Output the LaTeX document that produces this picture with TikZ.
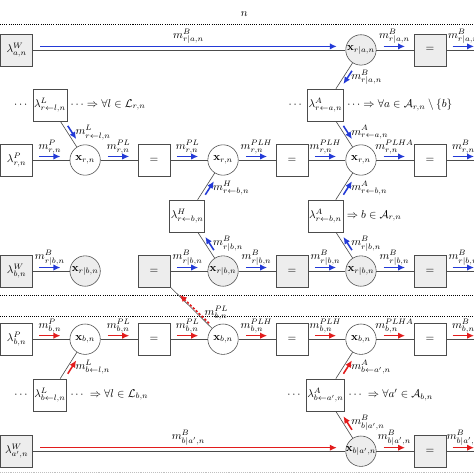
\documentclass[tikz,border=0pt]{standalone}
\usepackage{amsmath}
\usepackage{amssymb}
\usepackage{tikz}
\usetikzlibrary{calc,positioning,arrows.meta}
\usepackage{xcolor}
\definecolor{msgblue}{RGB}{35,58,215}
\definecolor{msgred}{RGB}{226,28,28}
\tikzset{
  fac/.style={rectangle,draw=black!70,line width=0.5pt,fill=white,minimum size=1cm,inner sep=1pt},
  facg/.style={fac,fill=black!7},
  var/.style={circle,draw=black!70,line width=0.5pt,fill=white,minimum size=0.95cm,inner sep=-1pt},
  varg/.style={var,fill=black!7},
  edge/.style={line width=0.55pt,black!70},
  sep/.style={densely dotted,line width=0.9pt,black},
  sepl/.style={densely dotted,line width=0.7pt,black!25},
  lbl/.style={inner sep=1.5pt,text=black},
  side/.style={inner sep=1pt},
  % message arrows drawn beside the edges
  mblue/.style={-{Latex[length=2.2mm,width=2mm]},line width=1.4pt,msgblue},
  mred/.style={-{Latex[length=2.2mm,width=2mm]},line width=1.4pt,msgred},
  mredd/.style={mred,dash pattern=on 2pt off 1.6pt},
}
% horizontal message above the edge from #2 to #3
\newcommand{\HMsg}[4]{%
  \draw[#1] ($(#2)!.33!(#3)+(0,.11)$) -- ($(#2)!.64!(#3)+(0,.11)$) node[lbl,midway,above]{#4};}
% slanted message right of the edge from #2 to #3
\newcommand{\DMsg}[4]{%
  \draw[#1] ($(#2)!.38!(#3)+(.14,0)$) -- ($(#2)!.62!(#3)+(.14,0)$) node[lbl,midway,right=1pt]{#4};}

\begin{document}
\begin{tikzpicture}
  \useasboundingbox (0,0) rectangle (14.8125,-14.8125);
  \clip (0,0) rectangle (14.8125,-14.8125);

  \node at (7.63,-0.44) {$n$};
  \draw[sep] (0,-0.78) -- (14.9,-0.78);
  \draw[sep] (0,-9.22) -- (14.9,-9.22);
  \draw[sep] (0,-9.9) -- (14.9,-9.9);
  \draw[sepl] (0,-14.75) -- (14.9,-14.75);

  % r panel
  \node[facg] (wA) at (0.52,-1.56) {$\lambda^{W}_{a,n}$};
  \node[varg] (xra) at (11.28,-1.56) {$\mathbf{x}_{r|a,n}$};
  \node[facg] (eqA) at (13.435,-1.56) {$=$};
  \coordinate (endA) at (15.59,-1.56);

  \node[fac] (lamLr) at (1.56,-3.28) {$\lambda^{L}_{r\leftarrow l,n}$};
  \node[fac] (lamAr) at (10.17,-3.28) {$\lambda^{A}_{r\leftarrow a,n}$};
  \node[side,left=2pt of lamLr] (dLr) {$\cdots$};
  \node[side,right=2pt of lamLr] (tLr) {$\cdots \Rightarrow \forall l \in \mathcal{L}_{r,n}$};
  \node[side,left=2pt of lamAr] (dAr) {$\cdots$};
  \node[side,right=2pt of lamAr] (tAr) {$\cdots \Rightarrow \forall a \in \mathcal{A}_{r,n} \setminus \{b\}$};

  \node[fac] (lamPr) at (0.52,-5.0) {$\lambda^{P}_{r,n}$};
  \node[var] (xr1) at (2.66,-5.0) {$\mathbf{x}_{r,n}$};
  \node[fac] (eqC2) at (4.815,-5.0) {$=$};
  \node[var] (xr3) at (6.97,-5.0) {$\mathbf{x}_{r,n}$};
  \node[fac] (eqC4) at (9.125,-5.0) {$=$};
  \node[var] (xr5) at (11.28,-5.0) {$\mathbf{x}_{r,n}$};
  \node[fac] (eqC6) at (13.435,-5.0) {$=$};
  \coordinate (endC) at (15.59,-5.0);

  \node[fac] (lamHr) at (5.85,-6.75) {$\lambda^{H}_{r\leftarrow b,n}$};
  \node[fac] (lamArb) at (10.17,-6.75) {$\lambda^{A}_{r\leftarrow b,n}$};
  \node[side,right=2pt of lamArb] (tArb) {$\Rightarrow b \in \mathcal{A}_{r,n}$};

  \node[facg] (wb) at (0.52,-8.47) {$\lambda^{W}_{b,n}$};
  \node[varg] (xrb1) at (2.66,-8.47) {$\mathbf{x}_{r|b,n}$};
  \node[facg] (eqE2) at (4.815,-8.47) {$=$};
  \node[varg] (xrb3) at (6.97,-8.47) {$\mathbf{x}_{r|b,n}$};
  \node[facg] (eqE4) at (9.125,-8.47) {$=$};
  \node[varg] (xrb5) at (11.28,-8.47) {$\mathbf{x}_{r|b,n}$};
  \node[facg] (eqE6) at (13.435,-8.47) {$=$};
  \coordinate (endE) at (15.59,-8.47);

  % b panel
  \node[fac] (lamPb) at (0.52,-10.6) {$\lambda^{P}_{b,n}$};
  \node[var] (xb1) at (2.66,-10.6) {$\mathbf{x}_{b,n}$};
  \node[fac] (eqF2) at (4.815,-10.6) {$=$};
  \node[var] (xb3) at (6.97,-10.6) {$\mathbf{x}_{b,n}$};
  \node[fac] (eqF4) at (9.125,-10.6) {$=$};
  \node[var] (xb5) at (11.28,-10.6) {$\mathbf{x}_{b,n}$};
  \node[fac] (eqF6) at (13.435,-10.6) {$=$};
  \coordinate (endF) at (15.59,-10.6);

  \node[fac] (lamLb) at (1.56,-12.34) {$\lambda^{L}_{b\leftarrow l,n}$};
  \node[fac] (lamAb) at (10.17,-12.34) {$\lambda^{A}_{b\leftarrow a',n}$};
  \node[side,left=2pt of lamLb] (dLb) {$\cdots$};
  \node[side,right=2pt of lamLb] (tLb) {$\cdots \;\Rightarrow \forall l \in \mathcal{L}_{b,n}$};
  \node[side,left=2pt of lamAb] (dAb) {$\cdots$};
  \node[side,right=2pt of lamAb] (tAb) {$\cdots \;\Rightarrow \forall a' \in \mathcal{A}_{b,n}$};

  \node[facg] (wa) at (0.52,-14.1) {$\lambda^{W}_{a',n}$};
  \node[varg] (xba) at (11.28,-14.1) {$\mathbf{x}_{b|a',n}$};
  \node[facg] (eqH) at (13.435,-14.1) {$=$};
  \coordinate (endH) at (15.59,-14.1);

  % edges
  \draw[edge] (wA) -- (xra) -- (eqA) -- (endA);
  \draw[edge] (xra) -- (lamAr) -- (xr5);
  \draw[edge] (lamLr) -- (xr1);
  \draw[edge] (lamPr) -- (xr1) -- (eqC2) -- (xr3) -- (eqC4) -- (xr5) -- (eqC6) -- (endC);
  \draw[edge] (xr3) -- (lamHr) -- (xrb3);
  \draw[edge] (xr5) -- (lamArb) -- (xrb5);
  \draw[edge] (wb) -- (xrb1);
  \draw[edge] (eqE2) -- (xrb3) -- (eqE4) -- (xrb5) -- (eqE6) -- (endE);
  \draw[edge] (eqE2) -- (xb3);
  \draw[edge] (lamPb) -- (xb1) -- (eqF2) -- (xb3) -- (eqF4) -- (xb5) -- (eqF6) -- (endF);
  \draw[edge] (lamLb) -- (xb1);
  \draw[edge] (xb5) -- (lamAb) -- (xba);
  \draw[edge] (wa) -- (xba) -- (eqH) -- (endH);

  % messages, r panel
  \draw[mblue] ($(wA)!.068!(xra)+(0,.11)$) -- ($(wA)!.93!(xra)+(0,.11)$) node[lbl,midway,above]{$m^{B}_{r|a,n}$};
  \HMsg{mblue}{xra}{eqA}{$m^{B}_{r|a,n}$}
  \HMsg{mblue}{eqA}{endA}{$m^{B}_{r|a,n}$}
  \DMsg{mblue}{xra}{lamAr}{$m^{B}_{r|a,n}$}
  \DMsg{mblue}{lamAr}{xr5}{$m^{A}_{r\leftarrow a,n}$}
  \DMsg{mblue}{lamLr}{xr1}{$m^{L}_{r\leftarrow l,n}$}
  \HMsg{mblue}{lamPr}{xr1}{$m^{P}_{r,n}$}
  \HMsg{mblue}{xr1}{eqC2}{$m^{PL}_{r,n}$}
  \HMsg{mblue}{eqC2}{xr3}{$m^{PL}_{r,n}$}
  \HMsg{mblue}{xr3}{eqC4}{$m^{PLH}_{r,n}$}
  \HMsg{mblue}{eqC4}{xr5}{$m^{PLH}_{r,n}$}
  \HMsg{mblue}{xr5}{eqC6}{$m^{PLHA}_{r,n}$}
  \HMsg{mblue}{eqC6}{endC}{$m^{B}_{r,n}$}
  \DMsg{mblue}{lamHr}{xr3}{$m^{H}_{r\leftarrow b,n}$}
  \DMsg{mblue}{xrb3}{lamHr}{$m^{B}_{r|b,n}$}
  \DMsg{mblue}{lamArb}{xr5}{$m^{A}_{r\leftarrow b,n}$}
  \DMsg{mblue}{xrb5}{lamArb}{$m^{B}_{r|b,n}$}
  \HMsg{mblue}{wb}{xrb1}{$m^{B}_{r|b,n}$}
  \HMsg{mblue}{eqE2}{xrb3}{$m^{B}_{r|b,n}$}
  \HMsg{mblue}{xrb3}{eqE4}{$m^{B}_{r|b,n}$}
  \HMsg{mblue}{eqE4}{xrb5}{$m^{B}_{r|b,n}$}
  \HMsg{mblue}{xrb5}{eqE6}{$m^{B}_{r|b,n}$}
  \HMsg{mblue}{eqE6}{endE}{$m^{B}_{r|b,n}$}

  % messages, b panel
  \draw[mredd] ($(xb3)!.235!(eqE2)+(.07,0)$) -- ($(xb3)!.65!(eqE2)+(.05,0)$) node[lbl,pos=.35,right=3pt]{$m^{PL}_{b,n}$};
  \HMsg{mred}{lamPb}{xb1}{$m^{P}_{b,n}$}
  \HMsg{mred}{xb1}{eqF2}{$m^{PL}_{b,n}$}
  \HMsg{mred}{eqF2}{xb3}{$m^{PL}_{b,n}$}
  \HMsg{mred}{xb3}{eqF4}{$m^{PLH}_{b,n}$}
  \HMsg{mred}{eqF4}{xb5}{$m^{PLH}_{b,n}$}
  \HMsg{mred}{xb5}{eqF6}{$m^{PLHA}_{b,n}$}
  \HMsg{mred}{eqF6}{endF}{$m^{B}_{b,n}$}
  \DMsg{mred}{lamLb}{xb1}{$m^{L}_{b\leftarrow l,n}$}
  \DMsg{mred}{lamAb}{xb5}{$m^{A}_{b\leftarrow a',n}$}
  \DMsg{mred}{xba}{lamAb}{$m^{B}_{b|a',n}$}
  \draw[mred] ($(wa)!.068!(xba)+(0,.11)$) -- ($(wa)!.93!(xba)+(0,.11)$) node[lbl,midway,above]{$m^{B}_{b|a',n}$};
  \HMsg{mred}{xba}{eqH}{$m^{B}_{b|a',n}$}
  \HMsg{mred}{eqH}{endH}{$m^{B}_{b|a',n}$}
\end{tikzpicture}
\end{document}
